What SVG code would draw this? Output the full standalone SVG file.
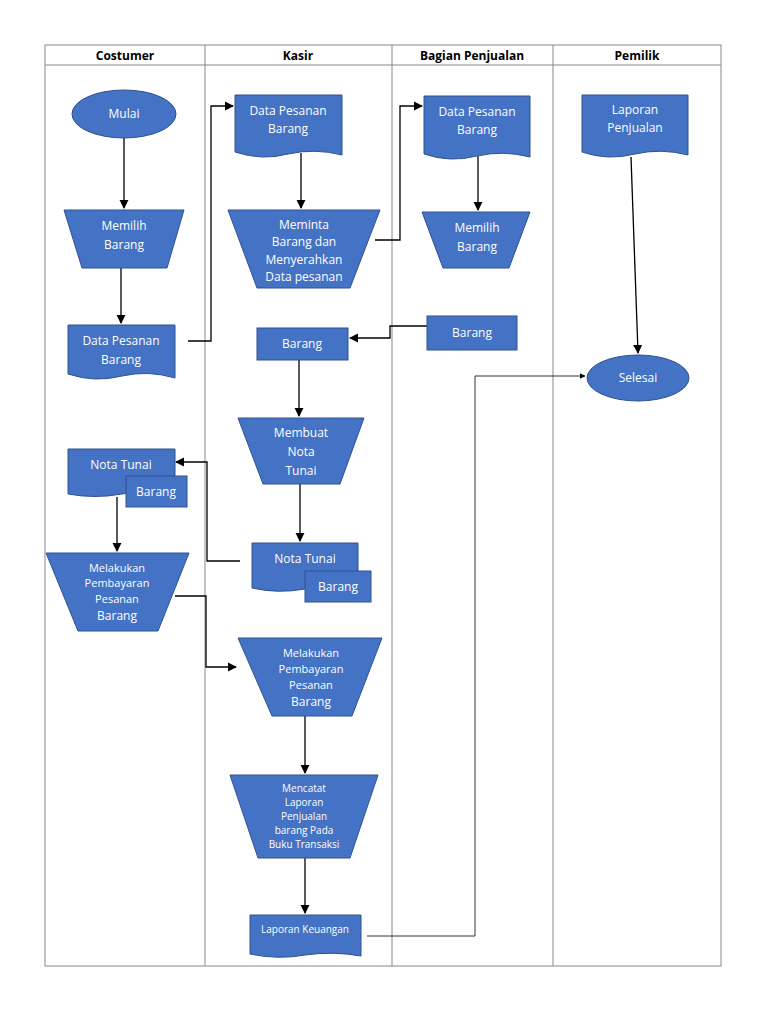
<svg xmlns="http://www.w3.org/2000/svg" width="768" height="1024" viewBox="0 0 768 1024">
<style>
.s{fill:#4472C4;stroke:#2F528F;stroke-width:1}
.t{fill:#fff;font-family:"Open Sans","Liberation Sans",sans-serif;font-size:12px;text-anchor:middle}
.h{fill:#000;font-family:"Open Sans","Liberation Sans",sans-serif;font-size:12px;font-weight:bold;text-anchor:middle}
.c{fill:none;stroke:#000;stroke-width:1.3}
.g{stroke:#888;stroke-width:1;fill:none}
</style>
<defs><marker id="a" viewBox="0 0 10 10" refX="9" refY="5" markerWidth="7" markerHeight="7" orient="auto"><path d="M0,0L10,5L0,10z" fill="#000"/></marker></defs>
<rect width="768" height="1024" fill="#fff"/>
<g id="lanes">
<rect x="45" y="45" width="676" height="921" class="g"/>
<line x1="45" y1="65" x2="721" y2="65" class="g"/>
<line x1="205" y1="45" x2="205" y2="966" class="g"/>
<line x1="392" y1="45" x2="392" y2="966" class="g"/>
<line x1="553" y1="45" x2="553" y2="966" class="g"/>
<text x="125" y="60" class="h">Costumer</text>
<text x="298" y="60" class="h">Kasir</text>
<text x="472" y="60" class="h">Bagian Penjualan</text>
<text x="637" y="60" class="h">Pemilik</text>
</g>
<g id="connectors">
<path class="c" d="M124,138V208" marker-end="url(#a)"/>
<path class="c" d="M121,268V323" marker-end="url(#a)"/>
<path class="c" d="M188,341H211V106H233" marker-end="url(#a)"/>
<path class="c" d="M301,153V208" marker-end="url(#a)"/>
<path class="c" d="M375,240H400V106H422" marker-end="url(#a)"/>
<path class="c" d="M478,155V210" marker-end="url(#a)"/>
<path class="c" d="M427,326H390V338H350" marker-end="url(#a)"/>
<path class="c" d="M299,360V416" marker-end="url(#a)"/>
<path class="c" d="M300,484V541" marker-end="url(#a)"/>
<path class="c" d="M240,561H207V462H176" marker-end="url(#a)"/>
<path class="c" d="M117,497V551" marker-end="url(#a)"/>
<path class="c" d="M175,596H206V667H236" marker-end="url(#a)"/>
<path class="c" d="M305,716V773" marker-end="url(#a)"/>
<path class="c" d="M305,858V913" marker-end="url(#a)"/>
<path class="c" style="stroke-width:0.8" d="M367,936H475V376H585" marker-end="url(#a)"/>
<path class="c" d="M631,157L638,353" marker-end="url(#a)"/>
</g>
<g id="mulai"><ellipse cx="124" cy="114" rx="52" ry="24" class="s"/><text x="124" y="118" class="t">Mulai</text></g>
<g id="memilih1"><path d="M64,210H184L167,268H82z" class="s"/><text x="124" y="230" class="t">Memilih</text><text x="124" y="249" class="t">Barang</text></g>
<g id="data1"><path d="M68,325H175V378Q148,370 122,376Q95,383 68,374z" class="s"/><text x="121" y="345" class="t">Data Pesanan</text><text x="121" y="364" class="t">Barang</text></g>
<g id="data2"><path d="M235,95H342V155Q315,148 288,154Q262,161 235,152z" class="s"/><text x="288" y="115" class="t">Data Pesanan</text><text x="288" y="133" class="t">Barang</text></g>
<g id="meminta"><path d="M228,210H380L350,288H257z" class="s"/><text x="304" y="229" class="t">Meminta</text><text x="304" y="246" class="t">Barang dan</text><text x="304" y="264" class="t">Menyerahkan</text><text x="304" y="281" class="t">Data pesanan</text></g>
<g id="data3"><path d="M424,96H530V157Q503,150 477,156Q450,163 424,154z" class="s"/><text x="477" y="116" class="t">Data Pesanan</text><text x="477" y="134" class="t">Barang</text></g>
<g id="memilih2"><path d="M422,212H530L509,268H443z" class="s"/><text x="477" y="232" class="t">Memilih</text><text x="477" y="251" class="t">Barang</text></g>
<g id="barang1"><rect x="427" y="316" width="90" height="34" class="s"/><text x="472" y="337" class="t">Barang</text></g>
<g id="barang2"><rect x="257" y="328" width="91" height="32" class="s"/><text x="302" y="348" class="t">Barang</text></g>
<g id="membuat"><path d="M238,418H364L340,484H263z" class="s"/><text x="301" y="437" class="t">Membuat</text><text x="301" y="456" class="t">Nota</text><text x="301" y="475" class="t">Tunai</text></g>
<g id="nota2"><path d="M252,543H358V590Q330,584 305,589Q278,594 252,588z" class="s"/><rect x="305" y="571" width="66" height="31" class="s"/><text x="305" y="563" class="t">Nota Tunai</text><text x="338" y="591" class="t">Barang</text></g>
<g id="nota1"><path d="M68,449H175V495Q148,489 122,494Q95,499 68,494z" class="s"/><rect x="126" y="476" width="61" height="31" class="s"/><text x="121" y="469" class="t">Nota Tunai</text><text x="156" y="496" class="t">Barang</text></g>
<g id="bayar1"><path d="M46,553H189L158,631H78z" class="s"/><text x="117" y="572" class="t" style="font-size:11px">Melakukan</text><text x="117" y="587" class="t" style="font-size:11px">Pembayaran</text><text x="117" y="603" class="t" style="font-size:11px">Pesanan</text><text x="117" y="620" class="t">Barang</text></g>
<g id="bayar2"><path d="M238,638H382L352,716H272z" class="s"/><text x="311" y="657" class="t" style="font-size:11px">Melakukan</text><text x="311" y="673" class="t" style="font-size:11px">Pembayaran</text><text x="311" y="689" class="t" style="font-size:11px">Pesanan</text><text x="311" y="706" class="t">Barang</text></g>
<g id="mencatat"><path d="M230,775H378L350,858H258z" class="s"/><g style="font-size:10px"><text x="304" y="792" class="t" style="font-size:10px">Mencatat</text><text x="304" y="806" class="t" style="font-size:10px">Laporan</text><text x="304" y="820" class="t" style="font-size:10px">Penjualan</text><text x="304" y="834" class="t" style="font-size:10px">barang Pada</text><text x="304" y="848" class="t" style="font-size:10px">Buku Transaksi</text></g></g>
<g id="laporank"><path d="M250,915H361V956Q333,951 305,955Q278,960 250,954z" class="s"/><text x="305" y="933" class="t" style="font-size:10px">Laporan Keuangan</text></g>
<g id="laporanp"><path d="M582,95H688V155Q661,148 635,154Q608,161 582,152z" class="s"/><text x="635" y="114" class="t">Laporan</text><text x="635" y="132" class="t">Penjualan</text></g>
<g id="selesai"><ellipse cx="638" cy="378" rx="51" ry="23" class="s"/><text x="638" y="382" class="t">Selesai</text></g>
</svg>
